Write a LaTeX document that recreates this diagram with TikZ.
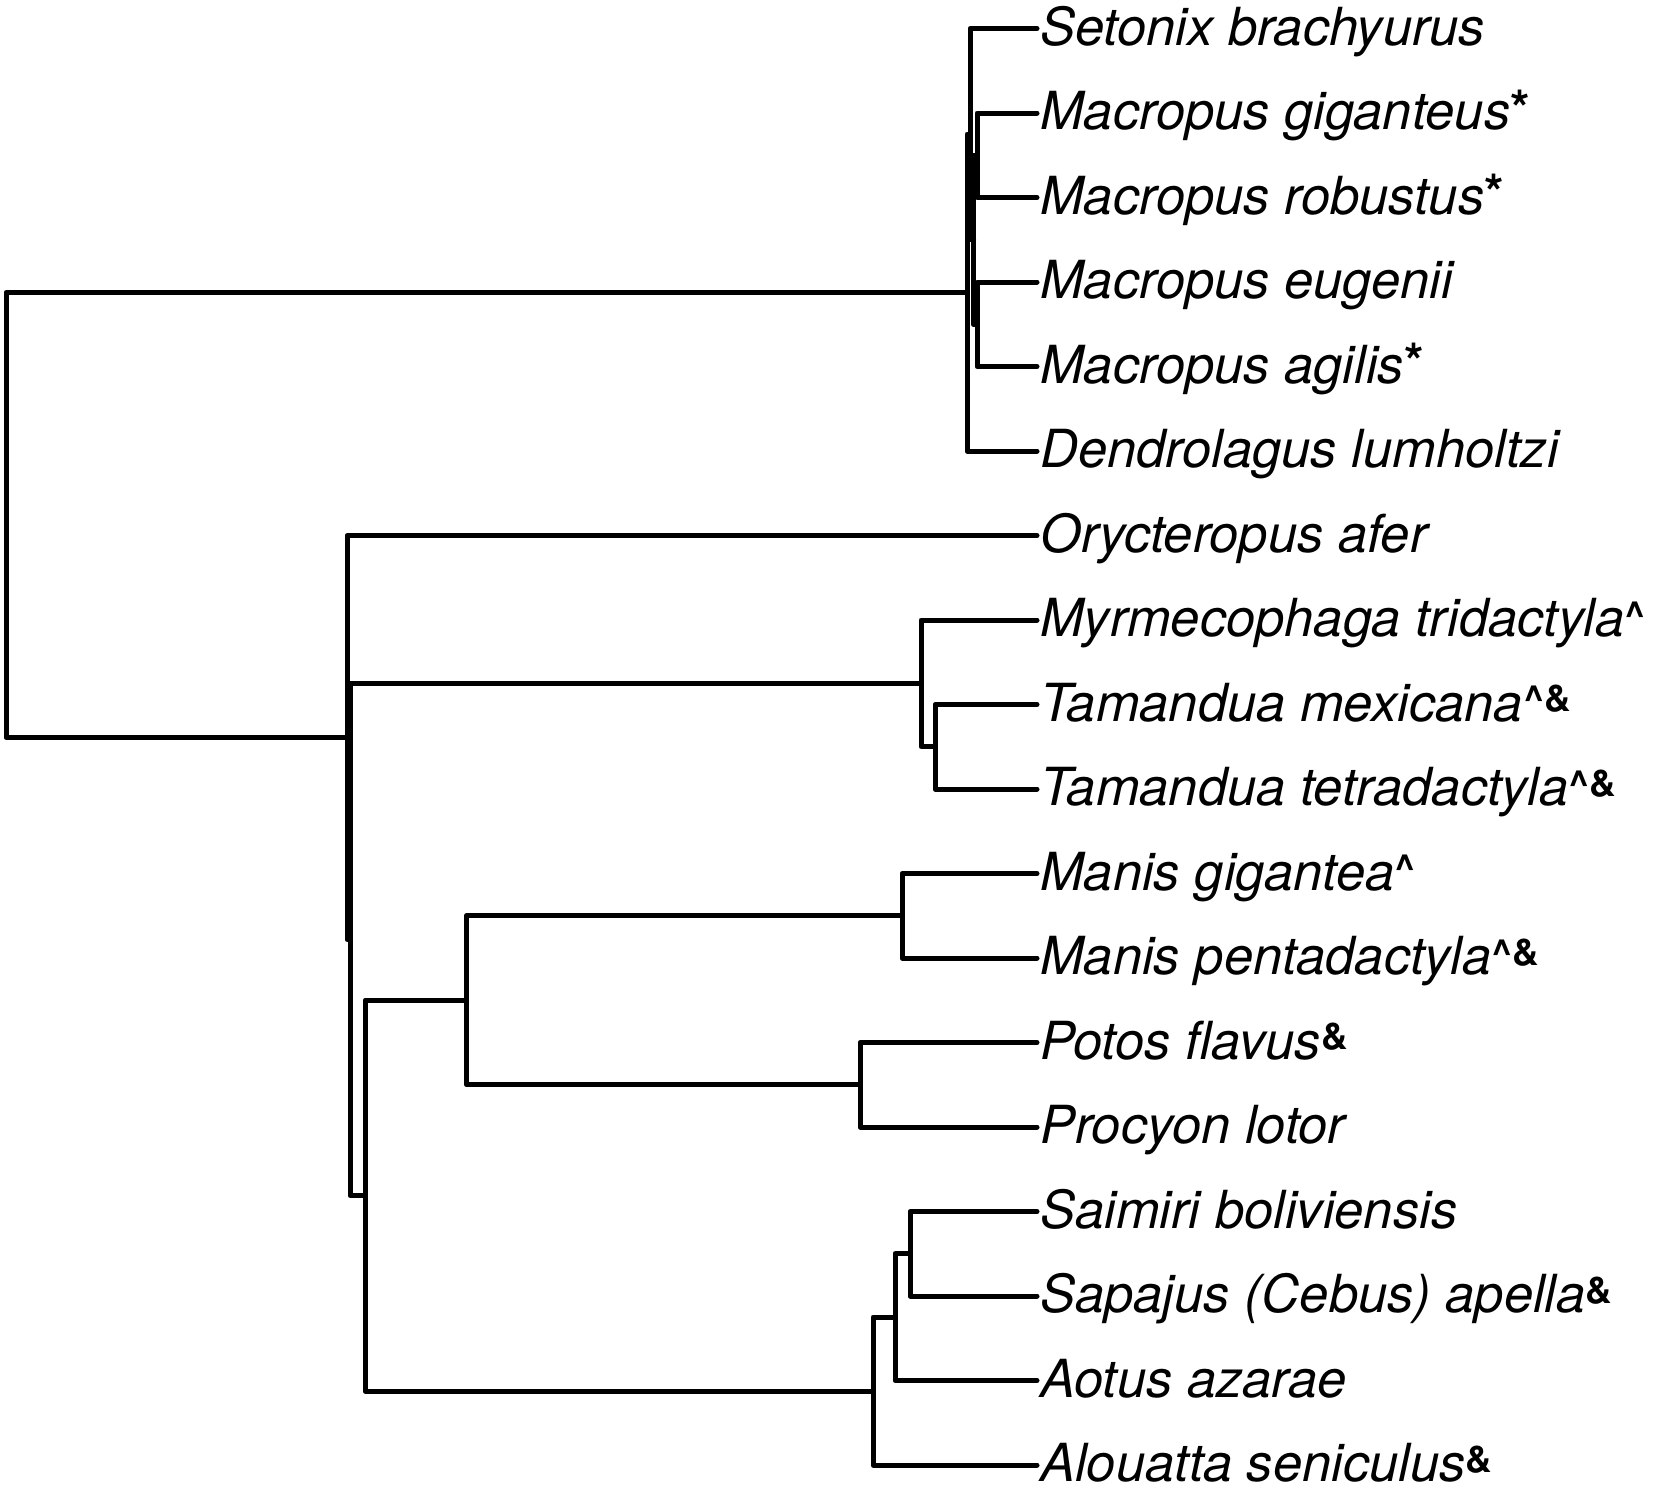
\documentclass[tikz,border=0pt]{standalone}
\usepackage{fontspec}
\setmainfont{TeX Gyre Heros}
\newcommand\mk[1]{\textsuperscript{\upshape\bfseries #1}}
\newcommand\mkast{\textsuperscript{\upshape\bfseries\fontsize{50}{50}\selectfont\raisebox{-0.12em}{*}}}
\begin{document}
\begin{tikzpicture}[x=1pt,y=-1pt,
  br/.style={line width=5pt,line cap=round,line join=round},
  lab/.style={anchor=base west,inner sep=0pt,font=\fontsize{52.5}{60}\selectfont\itshape}]
\useasboundingbox (0,0) rectangle (1655,1486);
% leaf ends
\foreach \i/\y in {1/28.5,2/113,3/197.5,4/282,5/366.5,6/451,7/535.5,8/620,9/704.5,10/789,11/873.5,12/958,13/1042.5,14/1127,15/1211.5,16/1296,17/1380.5,18/1465}
  \coordinate (l\i) at (1037,\y);
% labels
\tikzset{lshift/.style={shift={(3,16.5)}}}
\node[lab] (t1) at ([lshift]l1) {Setonix brachyurus};
\node[lab] (t2) at ([lshift]l2) {Macropus giganteus\mkast};
\node[lab] (t3) at ([lshift]l3) {Macropus robustus\mkast};
\node[lab] (t4) at ([lshift]l4) {Macropus eugenii};
\node[lab] (t5) at ([lshift]l5) {Macropus agilis\mkast};
\node[lab] (t6) at ([lshift]l6) {Dendrolagus lumholtzi};
\node[lab] (t7) at ([lshift]l7) {Orycteropus afer};
\node[lab] (t8) at ([lshift]l8) {Myrmecophaga tridactyla\mk{\textasciicircum}};
\node[lab] (t9) at ([lshift]l9) {Tamandua mexicana\mk{\textasciicircum\&}};
\node[lab] (t10) at ([lshift]l10) {Tamandua tetradactyla\mk{\textasciicircum\&}};
\node[lab] (t11) at ([lshift]l11) {Manis gigantea\mk{\textasciicircum}};
\node[lab] (t12) at ([lshift]l12) {Manis pentadactyla\mk{\textasciicircum\&}};
\node[lab] (t13) at ([lshift]l13) {Potos flavus\mk{\&}};
\node[lab] (t14) at ([lshift]l14) {Procyon lotor};
\node[lab] (t15) at ([lshift]l15) {Saimiri boliviensis};
\node[lab] (t16) at ([lshift]l16) {Sapajus (Cebus) apella\mk{\&}};
\node[lab] (t17) at ([lshift]l17) {Aotus azarae};
\node[lab] (t18) at ([lshift]l18) {Alouatta seniculus\mk{\&}};
% internal nodes
\coordinate (root) at (6,515);
\coordinate (K1) at (967,292.5);
\coordinate (K2) at (970,134);
\coordinate (K3) at (973.5,239.75);
\coordinate (GR) at (977,155.25);
\coordinate (EA) at (977,324.25);
\coordinate (A) at (347,737.5);
\coordinate (B) at (350,939.5);
\coordinate (X) at (921,683.4);
\coordinate (T) at (935,746.75);
\coordinate (C) at (365,1195.6);
\coordinate (D) at (466.5,1000.25);
\coordinate (M) at (902,915.75);
\coordinate (Pr) at (860,1084.75);
\coordinate (P) at (873,1391);
\coordinate (P2) at (895,1317);
\coordinate (SS) at (910,1253.75);
% branches
\draw[br] (root) |- (K1);
\draw[br] (root) |- (A);
\draw[br] (K1) |- (K2);
\draw[br] (K1) |- (l6);
\draw[br] (K2) |- (l1);
\draw[br] (K2) |- (K3);
\draw[br] (K3) |- (GR);
\draw[br] (K3) |- (EA);
\draw[br] (GR) |- (l2);
\draw[br] (GR) |- (l3);
\draw[br] (EA) |- (l4);
\draw[br] (EA) |- (l5);
\draw[br] (A) |- (l7);
\draw[br] (A) |- (B);
\draw[br] (B) |- (X);
\draw[br] (B) |- (C);
\draw[br] (X) |- (l8);
\draw[br] (X) |- (T);
\draw[br] (T) |- (l9);
\draw[br] (T) |- (l10);
\draw[br] (C) |- (D);
\draw[br] (C) |- (P);
\draw[br] (D) |- (M);
\draw[br] (D) |- (Pr);
\draw[br] (M) |- (l11);
\draw[br] (M) |- (l12);
\draw[br] (Pr) |- (l13);
\draw[br] (Pr) |- (l14);
\draw[br] (P) |- (P2);
\draw[br] (P) |- (l18);
\draw[br] (P2) |- (SS);
\draw[br] (P2) |- (l17);
\draw[br] (SS) |- (l15);
\draw[br] (SS) |- (l16);
\end{tikzpicture}
\end{document}
